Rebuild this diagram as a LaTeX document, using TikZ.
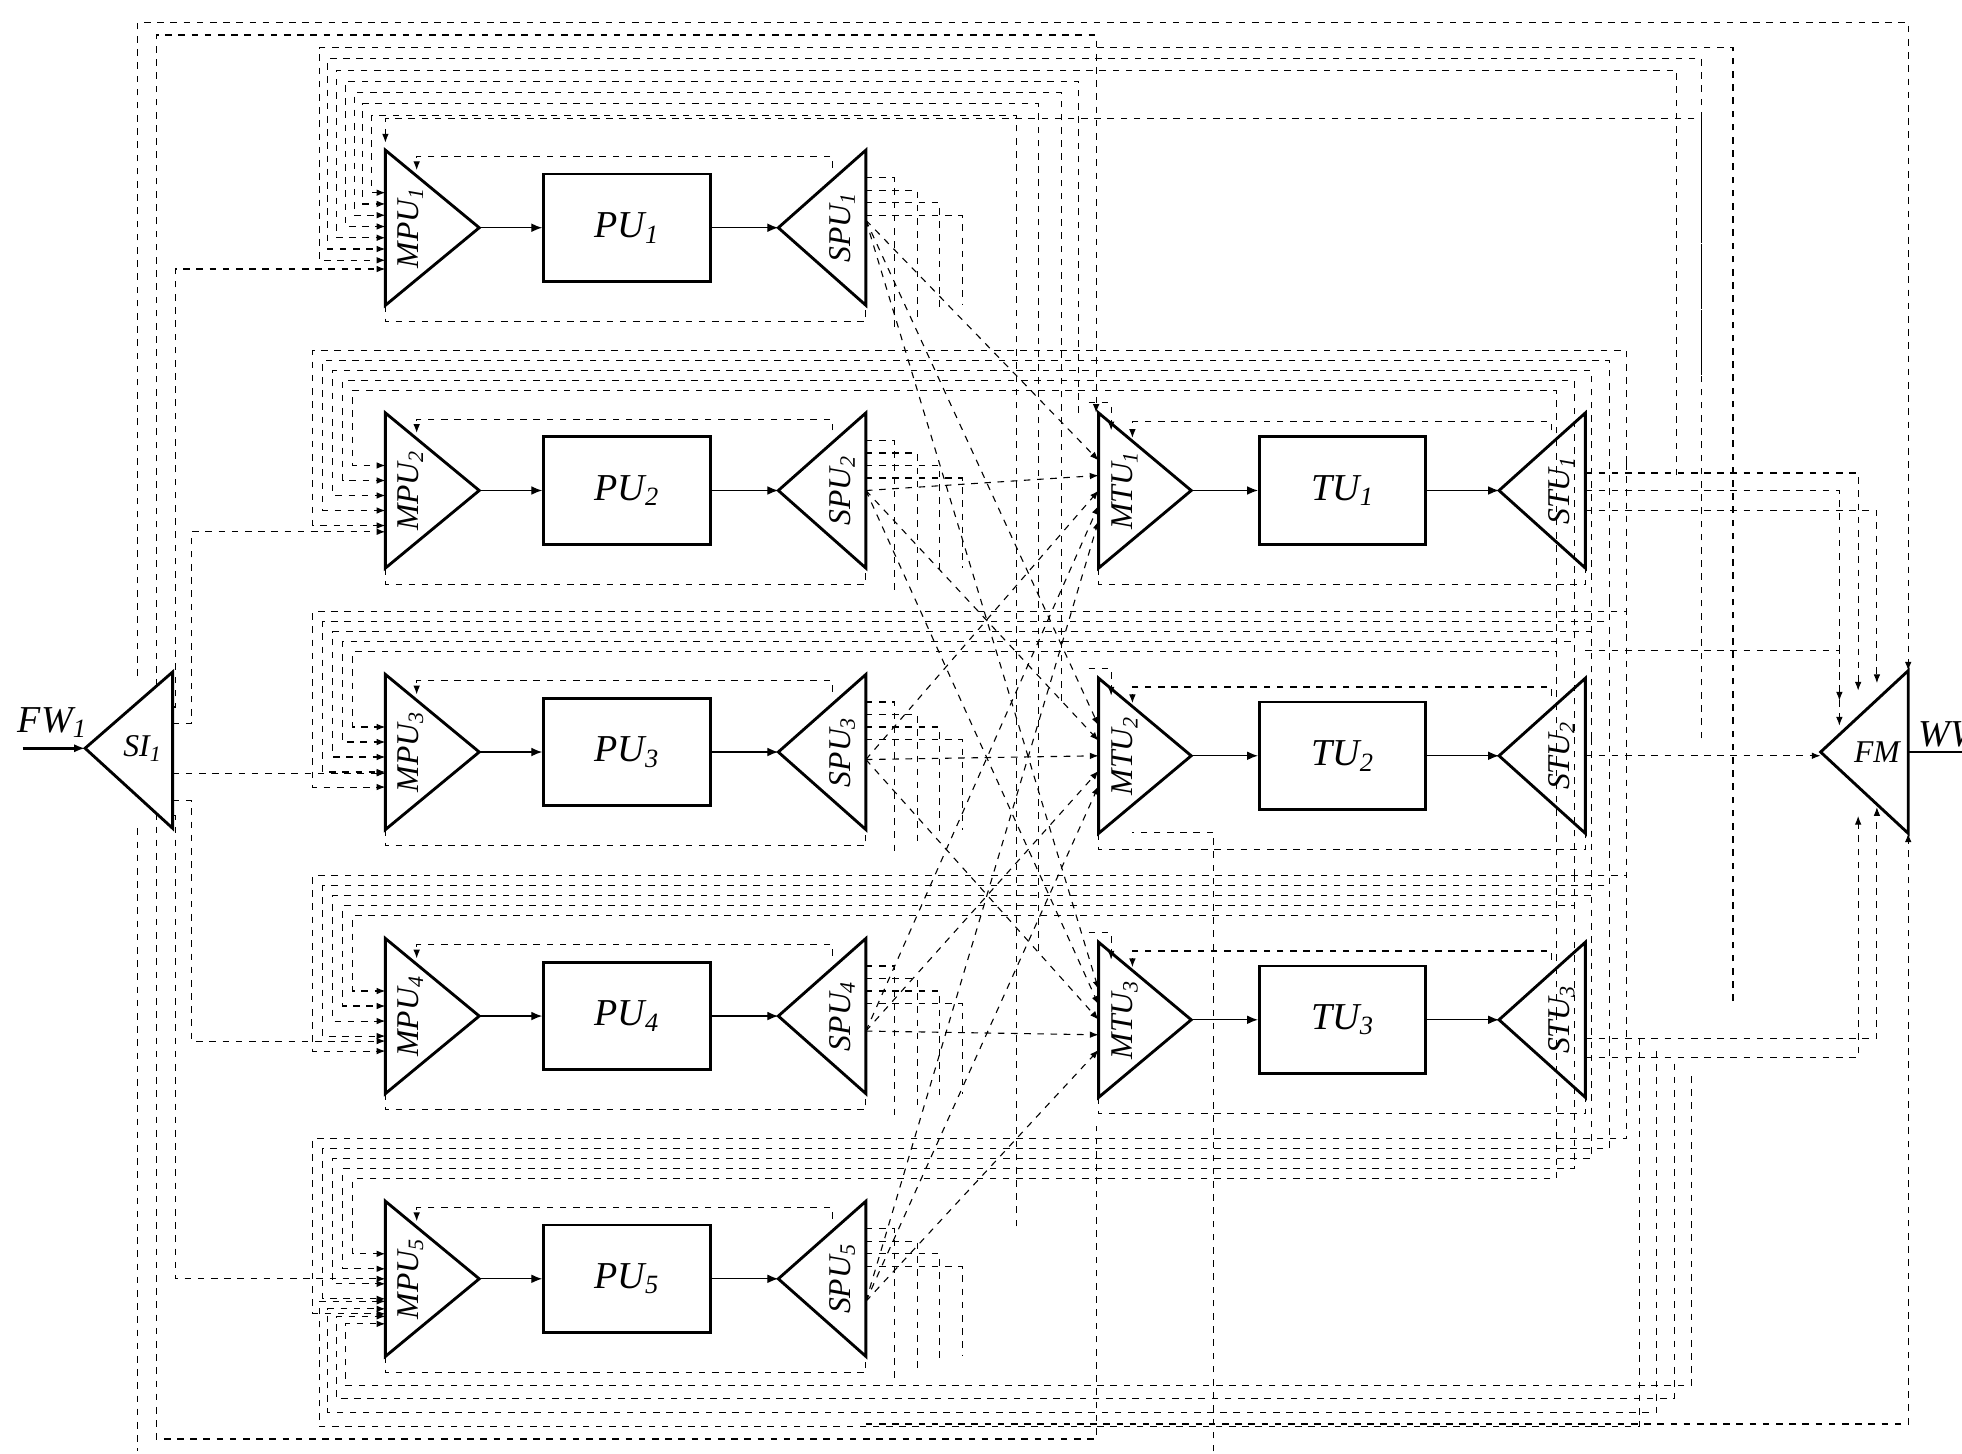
\documentclass[tikz,border=0pt]{standalone}
\usepackage{fontspec}
\setmainfont{Liberation Serif}
\usetikzlibrary{arrows.meta}
\begin{document}
\begin{tikzpicture}[x=0.02cm,y=-0.02cm,
 tri/.style={line width=1.3pt},
 dl/.style={dashed,line width=0.5pt},
 da/.style={dl,-{Latex[length=4pt,width=3pt]}},
 sa/.style={line width=0.6pt,-{Latex[length=5pt,width=4pt]}},
 box/.style={draw,line width=1.3pt,minimum width=2.66cm,minimum height=1.72cm,font=\LARGE\itshape},
 lab/.style={font=\LARGE\itshape},
 tlab/.style={font=\Large\itshape,inner sep=0pt}]
\useasboundingbox (0,0) rectangle (1568,1162);
% SI
\draw[tri] (138,537) -- (68,598) -- (138,662) -- cycle;
\node[tlab] (si) at (114,598) {SI\textsubscript{1}};
\coordinate (fwin) at (18,598); \coordinate (siapex) at (68,598);
\draw[line width=1.3pt,-{Latex[length=5pt]}] (fwin) -- (siapex);
\node[lab,above] (fw) at (42,596) {FW\textsubscript{1}};
% rows P
\foreach \i/\y in {1/182,2/392,3/601,4/812,5/1022}{
 \draw[tri] (308,\y-62) -- (383,\y) -- (308,\y+62) -- cycle;
 \node[tlab,rotate=90] (mpu\i) at (328,\y) {MPU\textsubscript{\i}};
 \coordinate (mpuo\i) at (383,\y);
 \node[box] (pu\i) at (501,\y) {PU\textsubscript{\i}};
 \draw[tri] (692,\y-62) -- (622,\y) -- (692,\y+62) -- cycle;
 \node[tlab,rotate=90] (spu\i) at (673,\y) {SPU\textsubscript{\i}};
 \coordinate (spui\i) at (622,\y);
 \coordinate (spuo\i) at (692,\y);
 \draw[sa] (mpuo\i) -- (pu\i.west);
 \draw[sa] (pu\i.east) -- (spui\i);
 \draw[da] (665,\y-48) |- (333,\y-57) -- (333,\y-46);
 \draw[dl] (308,\y+62) -- (308,\y+75) -| (692,\y+62);
}
% rows T
\foreach \j/\y in {1/392,2/604,3/815}{
 \draw[tri] (878,\y-62) -- (952,\y) -- (878,\y+62) -- cycle;
 \node[tlab,rotate=90] (mtu\j) at (899,\y) {MTU\textsubscript{\j}};
 \coordinate (mtuo\j) at (952,\y);
 \node[box] (tu\j) at (1073,\y) {TU\textsubscript{\j}};
 \draw[tri] (1267,\y-62) -- (1198,\y) -- (1267,\y+62) -- cycle;
 \node[tlab,rotate=90] (stu\j) at (1248,\y) {STU\textsubscript{\j}};
 \coordinate (stui\j) at (1198,\y);
 \draw[sa] (mtuo\j) -- (tu\j.west);
 \draw[sa] (tu\j.east) -- (stui\j);
 \draw[da] (1240,\y-48) |- (905,\y-55) -- (905,\y-42);
 \draw[dl] (878,\y+62) -- (878,\y+75) -| (1267,\y+62);
 \draw[da] (870,\y-70) -| (888,\y-48);
}
% fan lines
\foreach \i/\y in {1/182,2/392,3/601,4/812,5/1022}{
 \foreach \j/\t in {1/392,2/604,3/815}{
  \draw[da] (692,\y-12+6*\i) -- (878,\t-36+12*\i);
 }
}
% FM
\draw[tri] (1525,536) -- (1455,601) -- (1525,666) -- cycle;
\node[tlab] (fm) at (1500,601) {FM};
\coordinate (fmo) at (1525,601); \coordinate (wwend) at (1568,601);
\draw[line width=1.3pt] (fmo) -- (wwend);
\node[lab,anchor=south west] (ww) at (1527,603) {WW};
% SI to MPU
\draw[da] (138,565) -- (140,565) |- (308,215);
\draw[da] (138,578) -- (153,578) |- (308,425);
\draw[da] (138,618) -- (308,618);
\draw[da] (138,640) -- (153,640) |- (308,832);
\draw[da] (138,652) -- (140,652) |- (308,1022);
% outer loops
\draw[da] (110,540) |- (1525,18) -- (1525,536);
\draw[dl] (110,662) -- (110,1160);
\draw[da] (125,548) |- (876,28) -- (876,330);
\draw[dl] (125,650) |- (876,1150) -- (876,900);
\draw[da] (692,1138) -| (1525,666);
\draw[dl] (970,1160) -- (970,665) -- (905,665);
% top loops into MPU1
\foreach \k/\xr/\yr in {0/1385/800,1/1360/590,2/1340/380,3/862/330,4/848/560,5/830/760,6/812/980}{
 \draw[da] (\xr,\yr) |- (255+7*\k,38+9*\k) |- (308,208-9*\k);
}
\draw[da] (1360,300) |- (308,95) -- (308,114);
% loops rows 2-5
\foreach \i/\ry in {2/392,3/601,4/812,5/1022}{
 \foreach \k in {0,...,4}{
  \draw[da] (1300-14*\k,370+110*\k) |- (250+8*\k,\ry-112+8*\k) |- (308,\ry+28-12*\k);
 }
}
% bottom loops into MPU5
\foreach \k in {0,...,3}{
 \draw[da] (1310+14*\k,830+10*\k) |- (255+7*\k,1140-11*\k) |- (308,1040+6*\k);
}
% per-row outgoing from SPU
\foreach \i/\y in {1/182,2/392,3/601,4/812,5/1022}{
 \foreach \k in {0,...,3}{
  \draw[dl] (692,\y-40+10*\k) -- (715+18*\k,\y-40+10*\k) -- (715+18*\k,\y+80-6*\k);
 }
}
% STU to FM
\draw[da] (1267,378) -| (1485,552);
\draw[da] (1267,392) -| (1470,560);
\draw[da] (1267,408) -| (1500,546);
\draw[da] (1267,604) -- (1455,604);
\draw[da] (1267,830) -| (1500,645);
\draw[da] (1267,845) -| (1485,652);
\draw[da] (1267,520) -| (1470,580);
\end{tikzpicture}
\end{document}
